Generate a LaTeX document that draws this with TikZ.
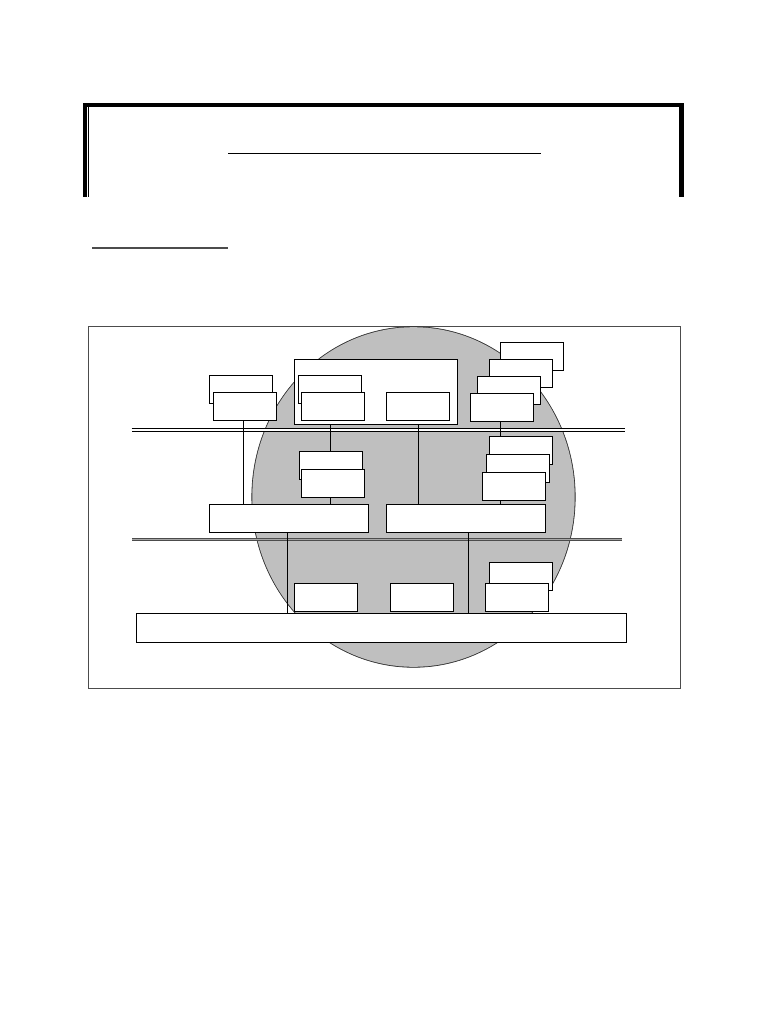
\documentclass[tikz,border=0pt]{standalone}
\usepackage{tikz}
\usetikzlibrary{calc,positioning}

\begin{document}
\begin{tikzpicture}[x=1pt,y=-1pt,
    unit/.style={draw,fill=white,line width=0.9pt,inner sep=0pt,anchor=north west,
        minimum width=63pt,minimum height=28pt},
    wide/.style={unit,minimum width=159pt},
    bus/.style={double=white,double distance=1.8pt,line width=0.9pt},
    lowbus/.style={double=gray!70,double distance=1.4pt,line width=0.9pt,draw=gray!60!black},
    link/.style={line width=0.8pt}]
    % Page
    \fill[white] (0,0) rectangle (768,1024);
    \useasboundingbox (0,0) rectangle (768,1024);
    
    % Header frame
    \draw[line width=4pt,miter limit=4] (85.3,197) -- (85.3,105.3) -- (682,105.3) -- (682,197);
    \draw[line width=1pt] (88.8,107) -- (88.8,197);
    \draw[line width=1pt] (679.2,107) -- (679.2,197);
    \draw[line width=1.5pt] (228.3,153.3) -- (541,153.3);
    \draw[line width=1.8pt,gray!60!black] (92,247.7) -- (228.3,247.7);
    
    % Diagram frame
    \draw[line width=0.8pt,black!70] (88,326) rectangle (680,688);
    
    % Ring
    \draw[fill=black!25,line width=0.7pt,black!80] (413.5,497) ellipse (161.7 and 170.3);
    \fill[black!25] (413.5,497) ellipse (161.2 and 169.8);
    
    % Buses
    \coordinate (busAl) at (131.7,429.8);
    \coordinate (busAr) at (625,429.8);
    \coordinate (busBl) at (132.3,539.7);
    \coordinate (busBr) at (622.3,539.7);
    \draw[bus] (busAl) -- (busAr);
    \draw[lowbus] (busBl) -- (busBr);
    
    % Top row
    \node[unit] (lback) at (209.3,375.3) {};
    \node[unit] (lfront) at (213.3,392.3) {};
    \node[draw,fill=white,line width=0.9pt,inner sep=0pt,anchor=north west,
        minimum width=162.4pt,minimum height=65.6pt] (group) at (294.3,358.7) {};
    \node[unit] (gback) at (298.3,375.3) {};
    \node[unit] (gfront) at (301,392.3) {};
    \node[unit] (gright) at (386.3,392.3) {};
    \node[unit] (ra) at (500.3,342) {};
    \node[unit] (rb) at (489.3,358.7) {};
    \node[unit] (rc) at (477.3,376) {};
    \node[unit] (rd) at (470.3,393) {};
    
    % Middle row
    \node[unit] (mback) at (298.7,450.7) {};
    \node[unit] (mfront) at (301.3,468.7) {};
    \node[unit] (sa) at (489.3,436) {};
    \node[unit] (sb) at (485.7,454) {};
    \node[unit] (sc) at (482.3,472) {};
    \node[wide] (wleft) at (209.3,504.3) {};
    \node[wide] (wright) at (386,504.3) {};
    
    % Bottom row
    \node[unit] (ba) at (294.3,582.7) {};
    \node[unit] (bb) at (390.3,582.7) {};
    \node[unit] (bc) at (489.3,561.7) {};
    \node[unit] (bd) at (485.3,582.7) {};
    \node[wide,minimum width=490pt,minimum height=28.7pt] (base) at (136.3,613) {};
    
    % Links
    \coordinate (lx) at ([xshift=-2pt]lfront.south);
    \coordinate (rx) at ([xshift=-1.4pt]rd.south);
    \coordinate (wlx) at ([xshift=-1.5pt]wleft.south);
    \coordinate (wrx) at ([xshift=2pt]wright.south);
    \draw[link] (lx) -- (lx |- wleft.north);
    \draw[link] (group.south -| mback.north) -- (mback.north);
    \draw[link] (mfront.south -| mback.north) -- (mback.north |- wleft.north);
    \draw[link] (group.south -| gright.south) -- (gright.south |- wright.north);
    \draw[link] (rx) -- (rx |- sa.north);
    \draw[link] (sc.south -| rx) -- (rx |- wright.north);
    \draw[link] (wlx) -- (wlx |- base.north);
    \draw[link] (wrx) -- (wrx |- base.north);
    
\end{tikzpicture}
\end{document}
